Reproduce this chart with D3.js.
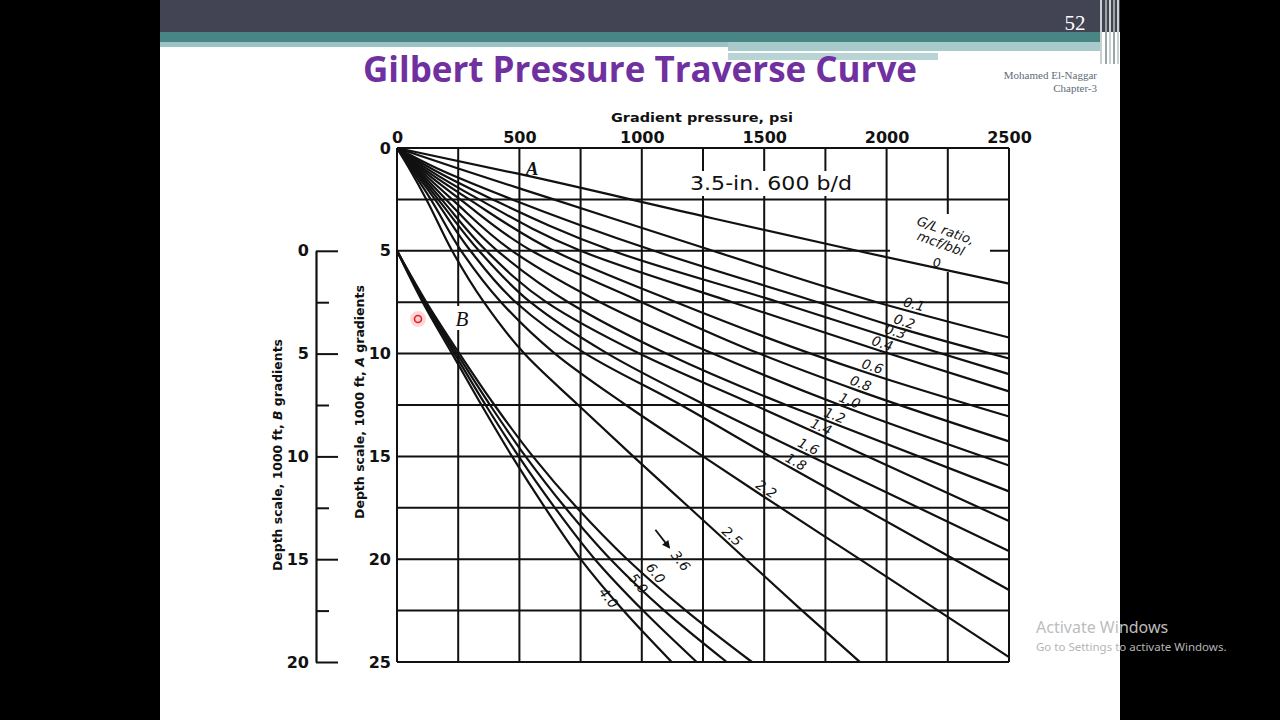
<!DOCTYPE html>
<html>
<head>
<meta charset="utf-8">
<script src="https://cdn.jsdelivr.net/npm/d3@7"></script>
<style>
html, body { margin: 0; padding: 0; background: #000; }
svg { display: block; }
</style>
</head>
<body>
<svg id="chart" width="1280" height="720"></svg>
<script>
// tick labels
const psiTicks = [0, 500, 1000, 1500, 2000, 2500];
const psiGrid = [0, 250, 500, 750, 1000, 1250, 1500, 1750, 2000, 2250, 2500];
const depthGrid = [0, 2.5, 5, 7.5, 10, 12.5, 15, 17.5, 20, 22.5, 25];
const depthTicksA = [0, 5, 10, 15, 20, 25];
const depthTicksB = [0, 5, 10, 15, 20];
const depthMinorB = [2.5, 7.5, 12.5, 17.5];

// A gradients: [pressure psi, depth 1000 ft]
const glr_0   = [[0, 0], [494, 1.25], [1238, 3.28], [1880, 5], [2500, 6.6]];
const glr_0_1 = [[0, 0], [250, 1], [640, 2.5], [1290, 5], [1960, 7.5], [2500, 9.22]];
const glr_0_2 = [[0, 0], [165, 1], [470, 2.5], [1050, 5], [1720, 7.5], [2063, 8.8], [2500, 10.24]];
const glr_0_3 = [[0, 0], [140, 1], [390, 2.5], [880, 5], [1560, 7.5], [2026, 9.28], [2500, 11.0]];
const glr_0_4 = [[0, 0], [122, 1], [335, 2.5], [750, 5], [1370, 7.5], [1973, 9.86], [2500, 11.84]];
const glr_0_6 = [[0, 0], [108, 1], [295, 2.5], [640, 5], [1140, 7.5], [1690, 10], [1932, 10.98], [2500, 13.06]];
const glr_0_8 = [[0, 0], [97, 1], [258, 2.5], [550, 5], [1000, 7.5], [1480, 10], [1883, 11.8], [2500, 14.27]];
const glr_1_0 = [[0, 0], [87, 1], [225, 2.5], [470, 5], [830, 7.5], [1290, 10], [1838, 12.63], [2500, 15.44]];
const glr_1_2 = [[0, 0], [80, 1], [200, 2.5], [410, 5], [700, 7.5], [1100, 10], [1590, 12.5], [1777, 13.36], [2500, 16.7]];
const glr_1_4 = [[0, 0], [74, 1], [182, 2.5], [365, 5], [610, 7.5], [990, 10], [1460, 12.5], [1720, 13.9], [2500, 18.15]];
const glr_1_6 = [[0, 0], [68, 1], [168, 2.5], [335, 5], [545, 7.5], [860, 10], [1260, 12.5], [1667, 14.86], [2500, 19.6]];
const glr_1_8 = [[0, 0], [62, 1], [155, 2.5], [300, 5], [485, 7.5], [770, 10], [1160, 12.5], [1525, 15], [1614, 15.59], [2500, 21.5]];
const glr_2_2 = [[0, 0], [56, 1], [138, 2.5], [262, 5], [425, 7.5], [645, 10], [935, 12.5], [1250, 15], [1491, 16.9], [1890, 20], [2500, 24.76]];
const glr_2_5 = [[0, 0], [50, 1], [120, 2.5], [225, 5], [355, 7.5], [520, 10], [740, 12.5], [965, 15], [1195, 17.5], [1425, 20], [1655, 22.5], [1891, 25]];

// B gradients: [pressure psi, depth 1000 ft on the B scale]
const glr_4_0 = [[0, 0], [105, 2.5], [225, 5], [345, 7.5], [470, 10], [605, 12.5], [750, 15], [925, 17.5], [1122, 20]];
const glr_5_0 = [[0, 0], [110, 2.5], [235, 5], [362, 7.5], [497, 10], [645, 12.5], [808, 15], [1005, 17.5], [1224, 20]];
const glr_6_0 = [[0, 0], [115, 2.5], [245, 5], [380, 7.5], [525, 10], [688, 12.5], [872, 15], [1092, 17.5], [1347, 20]];
const glr_3_6 = [[0, 0], [120, 2.5], [255, 5], [398, 7.5], [555, 10], [735, 12.5], [940, 15], [1180, 17.5], [1450, 20]];

const namesA = ["0", "0.1", "0.2", "0.3", "0.4", "0.6", "0.8", "1.0", "1.2", "1.4", "1.6", "1.8", "2.2", "2.5"];
const namesB = ["4.0", "5.0", "6.0", "3.6"];

const curvesA = [glr_0, glr_0_1, glr_0_2, glr_0_3, glr_0_4, glr_0_6, glr_0_8, glr_1_0, glr_1_2, glr_1_4, glr_1_6, glr_1_8, glr_2_2, glr_2_5];
const curvesB = [glr_4_0, glr_5_0, glr_6_0, glr_3_6];

// where each label sits along its curve (psi)
const labelPsiA = [null, 2104, 2063, 2026, 1973, 1932, 1883, 1838, 1777, 1720, 1667, 1614, 1491, 1348];
const labelSpotB = [[862, 16.9], [984, 16.2], [1054, 15.7], [1156, 15.1]];

const svg = d3.select("#chart");

// ---- slide frame ----
svg.append("rect").attr("x", 160).attr("y", 0).attr("width", 960).attr("height", 720).attr("fill", "#fff");
svg.append("rect").attr("x", 160).attr("y", 0).attr("width", 960).attr("height", 32).attr("fill", "#424453");
svg.append("rect").attr("x", 160).attr("y", 32).attr("width", 940).attr("height", 10).attr("fill", "#4a8585");
svg.append("rect").attr("x", 160).attr("y", 42).attr("width", 568).attr("height", 5).attr("fill", "#9cc3c3");
svg.append("rect").attr("x", 728).attr("y", 42).attr("width", 372).attr("height", 9).attr("fill", "#a8caca");
svg.append("rect").attr("x", 728).attr("y", 53).attr("width", 210).attr("height", 7).attr("fill", "#b8d4d4");
[1101, 1106, 1110, 1114, 1118].forEach(function (sx, i) {
    svg.append("line").attr("x1", sx).attr("x2", sx).attr("y1", 0).attr("y2", 64)
        .attr("stroke", i % 2 ? "#9aa5a5" : "#c8d0d0").attr("stroke-width", 2);
});
svg.append("text").attr("x", 1075).attr("y", 30).attr("text-anchor", "middle")
    .attr("font-family", "Liberation Serif").attr("font-size", 21).attr("fill", "#fff").text("52");

svg.append("text").attr("x", 640).attr("y", 82).attr("text-anchor", "middle")
    .attr("font-family", "Open Sans").attr("font-weight", "bold").attr("font-size", 35)
    .attr("textLength", 554).attr("lengthAdjust", "spacingAndGlyphs")
    .attr("fill", "#7030a0").text("Gilbert Pressure Traverse Curve");

svg.append("text").attr("x", 1097).attr("y", 79).attr("text-anchor", "end")
    .attr("font-family", "Liberation Serif").attr("font-size", 11).attr("fill", "#5d6b7a").text("Mohamed El-Naggar");
svg.append("text").attr("x", 1097).attr("y", 92).attr("text-anchor", "end")
    .attr("font-family", "Liberation Serif").attr("font-size", 11).attr("fill", "#5d6b7a").text("Chapter-3");

// ---- chart ----
const x = d3.scaleLinear().domain([0, 2500]).range([397, 1009]);
const y = d3.scaleLinear().domain([0, 25]).range([148, 662]);
const yB = d3.scaleLinear().domain([0, 20]).range([y(5), y(25)]);

const ink = "#111";
const font = "DejaVu Sans";

const grid = svg.append("g").attr("stroke", ink).attr("stroke-width", 2);
grid.selectAll("line.v").data(psiGrid).enter().append("line")
    .attr("x1", d => x(d)).attr("x2", d => x(d)).attr("y1", y(0)).attr("y2", y(25));
grid.selectAll("line.h").data(depthGrid).enter().append("line")
    .attr("x1", x(0)).attr("x2", x(2500)).attr("y1", d => y(d)).attr("y2", d => y(d));

// top pressure axis labels
const topAxis = svg.append("g").attr("transform", "translate(0," + (y(0) - 5) + ")")
    .call(d3.axisTop(x).tickValues(psiTicks).tickFormat(d3.format("d")).tickSize(0).tickPadding(0));
topAxis.select(".domain").remove();
topAxis.selectAll("text").attr("font-family", font).attr("font-weight", "bold")
    .attr("font-size", 16).attr("fill", ink);

svg.append("text").attr("x", 702).attr("y", 122).attr("text-anchor", "middle")
    .attr("font-family", font).attr("font-weight", "bold").attr("font-size", 13)
    .attr("textLength", 182).attr("lengthAdjust", "spacingAndGlyphs").attr("fill", ink)
    .text("Gradient pressure, psi");

// A depth axis
const leftA = svg.append("g").attr("transform", "translate(" + x(0) + ",0)")
    .call(d3.axisLeft(y).tickValues(depthTicksA).tickSize(0).tickPadding(6));
leftA.select(".domain").remove();
leftA.selectAll("text").attr("font-family", font).attr("font-weight", "bold")
    .attr("font-size", 16).attr("fill", ink);

const titleA = svg.append("text").attr("transform", "translate(364,402) rotate(-90)")
    .attr("text-anchor", "middle").attr("font-family", font).attr("font-weight", "bold")
    .attr("font-size", 13).attr("textLength", 234).attr("lengthAdjust", "spacingAndGlyphs").attr("fill", ink);
titleA.append("tspan").text("Depth scale, 1000 ft, ");
titleA.append("tspan").attr("font-style", "italic").text("A");
titleA.append("tspan").text(" gradients");

// B depth axis
const leftB = svg.append("g").attr("transform", "translate(316,0)")
    .call(d3.axisLeft(yB).tickValues(depthTicksB).tickSizeInner(-22).tickSizeOuter(0).tickPadding(7));
leftB.select(".domain").attr("stroke", ink).attr("stroke-width", 2.2);
leftB.selectAll(".tick line").attr("stroke", ink).attr("stroke-width", 2);
leftB.selectAll("text").attr("font-family", font).attr("font-weight", "bold")
    .attr("font-size", 16).attr("fill", ink);
const minorB = svg.append("g").attr("transform", "translate(317,0)")
    .call(d3.axisLeft(yB).tickValues(depthMinorB).tickSizeInner(-12).tickSizeOuter(0).tickFormat(""));
minorB.select(".domain").remove();
minorB.selectAll(".tick line").attr("stroke", ink).attr("stroke-width", 2);

const titleB = svg.append("text").attr("transform", "translate(282,455) rotate(-90)")
    .attr("text-anchor", "middle").attr("font-family", font).attr("font-weight", "bold")
    .attr("font-size", 13).attr("textLength", 232).attr("lengthAdjust", "spacingAndGlyphs").attr("fill", ink);
titleB.append("tspan").text("Depth scale, 1000 ft, ");
titleB.append("tspan").attr("font-style", "italic").text("B");
titleB.append("tspan").text(" gradients");

// white patches where the printed labels break the grid
function patch(px, py, w, h) {
    svg.append("rect").attr("x", px).attr("y", py).attr("width", w).attr("height", h).attr("fill", "#fff");
}
patch(686, 171, 170, 25);
patch(890, 214, 100, 58);
patch(450, 306, 22, 24);

// curves
const lineA = d3.line().x(d => x(d[0])).y(d => y(d[1])).curve(d3.curveMonotoneY);
const lineB = d3.line().x(d => x(d[0])).y(d => yB(d[1])).curve(d3.curveMonotoneY);

svg.append("g").selectAll("path").data(curvesA).enter().append("path")
    .attr("d", lineA).attr("fill", "none").attr("stroke", ink).attr("stroke-width", 2.2);
svg.append("g").selectAll("path").data(curvesB).enter().append("path")
    .attr("d", lineB).attr("fill", "none").attr("stroke", ink).attr("stroke-width", 2.2);

// curve labels sitting on their lines
function spotOn(curve, p, ys) {
    for (let i = 0; i < curve.length - 1; i++) {
        const a = curve[i], b = curve[i + 1];
        if (p >= a[0] && p <= b[0]) {
            const t = (p - a[0]) / (b[0] - a[0]);
            const d = a[1] + t * (b[1] - a[1]);
            const ang = Math.atan2(ys(b[1]) - ys(a[1]), x(b[0]) - x(a[0])) * 180 / Math.PI;
            return { px: x(p), py: ys(d), ang: ang };
        }
    }
    return null;
}

curvesA.forEach(function (c, i) {
    if (labelPsiA[i] === null) return;
    const s = spotOn(c, labelPsiA[i], y);
    svg.append("text")
        .attr("transform", "translate(" + s.px + "," + s.py + ") rotate(" + s.ang + ")")
        .attr("y", -3).attr("text-anchor", "middle")
        .attr("font-family", font).attr("font-style", "italic").attr("font-size", 13.5)
        .attr("fill", ink).text(namesA[i]);
});

namesB.forEach(function (n, i) {
    const s = labelSpotB[i];
    const g = svg.append("g")
        .attr("transform", "translate(" + x(s[0]) + "," + yB(s[1]) + ") rotate(52)");
    g.append("text").attr("y", 4).attr("text-anchor", "middle")
        .attr("font-family", font).attr("font-style", "italic").attr("font-size", 13.5)
        .attr("fill", ink).text(n);
    if (n === "3.6") {
        g.append("line").attr("x1", -40).attr("x2", -18).attr("y1", 0).attr("y2", 0)
            .attr("stroke", ink).attr("stroke-width", 1.8);
        g.append("path").attr("d", "M-16,0 L-24,-4 L-24,4 Z").attr("fill", ink);
    }
});

// annotations inside the plot
svg.append("text").attr("x", 771).attr("y", 190).attr("text-anchor", "middle")
    .attr("font-family", font).attr("font-size", 20).attr("textLength", 162)
    .attr("lengthAdjust", "spacingAndGlyphs").attr("fill", ink).text("3.5-in. 600 b/d");
svg.append("text").attr("x", 532).attr("y", 175).attr("text-anchor", "middle")
    .attr("font-family", "Liberation Serif").attr("font-style", "italic").attr("font-weight", "bold")
    .attr("font-size", 19).attr("fill", ink).text("A");
svg.append("text").attr("x", 462).attr("y", 326).attr("text-anchor", "middle")
    .attr("font-family", "Liberation Serif").attr("font-style", "italic")
    .attr("font-size", 21).attr("fill", ink).text("B");

const glrNote = svg.append("g").attr("transform", "translate(940,246) rotate(20)")
    .attr("font-family", font).attr("font-style", "italic").attr("font-size", 13).attr("fill", ink)
    .attr("text-anchor", "middle");
glrNote.append("text").attr("y", -12).text("G/L ratio,");
glrNote.append("text").attr("y", 2).text("mcf/bbl");
svg.append("text").attr("x", 937).attr("y", 267).attr("text-anchor", "middle")
    .attr("font-family", font).attr("font-style", "italic").attr("font-size", 13).attr("fill", ink).text("0");

// pointer dot left on the slide
svg.append("circle").attr("cx", 418).attr("cy", 319).attr("r", 8).attr("fill", "#ff6060").attr("opacity", 0.25);
svg.append("circle").attr("cx", 418).attr("cy", 319).attr("r", 3.5).attr("fill", "#ffd0d0")
    .attr("stroke", "#e02020").attr("stroke-width", 1.6);

// OS watermark
svg.append("text").attr("x", 1036).attr("y", 633).attr("font-family", "Noto Sans")
    .attr("font-size", 16).attr("fill", "#bdbdbd").text("Activate Windows");
svg.append("text").attr("x", 1036).attr("y", 651).attr("font-family", "Noto Sans")
    .attr("font-size", 11.5).attr("fill", "#b5b5b5").text("Go to Settings to activate Windows.");
</script>
</body>
</html>
